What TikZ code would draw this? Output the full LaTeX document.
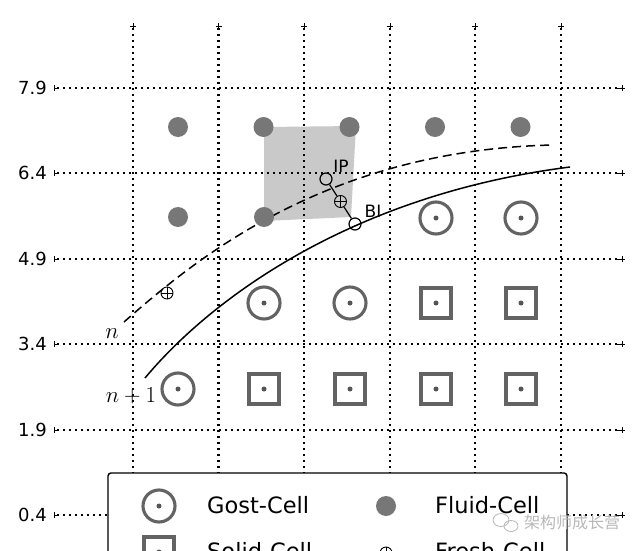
\documentclass[tikz,border=0pt]{standalone}
\usepackage{fontspec}
\setsansfont{DejaVu Sans}
\newfontfamily\cjkfont{Noto Sans CJK SC}
\definecolor{fluidgray}{HTML}{777777}
\definecolor{markgray}{HTML}{636363}
\definecolor{quadgray}{HTML}{C9C9C9}
\definecolor{dotgray}{HTML}{555555}
\definecolor{wmgray}{HTML}{B8B8B8}
\begin{document}
\begin{tikzpicture}[x=1pt,y=-1pt,
  gridline/.style={line width=2.2pt, dash pattern=on 2.2pt off 3.8pt},
  tickmark/.style={line width=0.9pt},
  ticklabel/.style={anchor=east, inner sep=0pt, font=\sffamily\fontsize{18}{20}\selectfont},
  fluidcell/.style={circle, fill=fluidgray, minimum size=20pt, inner sep=0pt},
  ghostcell/.style={circle, draw=markgray, line width=3.1pt, minimum size=32pt, inner sep=0pt,
    path picture={\fill[dotgray] (path picture bounding box.center) circle (2.5pt);}},
  solidcell/.style={rectangle, draw=markgray, line width=3.1pt, minimum size=30pt, inner sep=0pt,
    path picture={\fill[dotgray] (path picture bounding box.center) circle (2.5pt);}},
  freshcell/.style={circle, draw=black, line width=0.9pt, minimum size=12pt, inner sep=0pt,
    path picture={\draw[line width=0.9pt] (path picture bounding box.north) -- (path picture bounding box.south)
      (path picture bounding box.west) -- (path picture bounding box.east);}},
  probe/.style={circle, draw=black, line width=1.2pt, minimum size=12pt, inner sep=0pt},
  curvelabel/.style={anchor=base, inner sep=0pt, scale=1.1, font=\fontsize{20.74}{24}\selectfont},
  ptlabel/.style={anchor=base, inner sep=0pt, font=\sffamily\fontsize{17}{20}\selectfont},
  legtext/.style={anchor=base west, inner sep=0pt, font=\sffamily\fontsize{22.5}{26}\selectfont},
]
\useasboundingbox (0,0) rectangle (640,551);
\fill[white] (0,0) rectangle (640,551);

% shaded interpolation cell
\fill[quadgray] (264,127) -- (356,126) -- (351,217) -- (264,221) -- cycle;

% grid
\foreach \yy in {88,173,259,344,430,515} {
  \draw[gridline] (57,\yy) -- (621,\yy);
  \draw[tickmark] (54,\yy-3) -- (54,\yy+3);
  \draw[tickmark] (54,\yy) -- (58,\yy);
  \draw[tickmark] (622,\yy-3) -- (622,\yy+3);
  \draw[tickmark] (617,\yy) -- (625,\yy);
}
\foreach \xx in {133,218.5,304,390,475,561} {
  \draw[gridline] (\xx,28) -- (\xx,560);
  \draw[tickmark] (\xx-3,26) -- (\xx+3,26);
  \draw[tickmark] (\xx,23) -- (\xx,30);
}

% tick labels
\node[ticklabel] (t79) at (47,88) {7.9};
\node[ticklabel] (t64) at (47,173) {6.4};
\node[ticklabel] (t49) at (47,259) {4.9};
\node[ticklabel] (t34) at (47,344) {3.4};
\node[ticklabel] (t19) at (47,430) {1.9};
\node[ticklabel] (t04) at (47,515) {0.4};

% interfaces
\draw[line width=1.5pt, dash pattern=on 9pt off 5pt]
  (124,322) .. controls (200,255) and (330,150) .. (553,145);
\draw[line width=1.5pt]
  (145,378) .. controls (210,300) and (350,195) .. (570,167);

% fluid cells
\foreach \i/\xx in {1/178,2/263.5,3/349.5,4/435,5/520.5}
  \node[fluidcell] (f1\i) at (\xx,127) {};
\node[fluidcell] (f21) at (178,217) {};
\node[fluidcell] (f22) at (264,217) {};

% ghost cells
\node[ghostcell] (g24) at (436,218) {};
\node[ghostcell] (g25) at (521,218) {};
\node[ghostcell] (g32) at (264,303) {};
\node[ghostcell] (g33) at (350,303) {};
\node[ghostcell] (g41) at (178,389) {};

% solid cells
\node[solidcell] (s34) at (436,303) {};
\node[solidcell] (s35) at (521,303) {};
\node[solidcell] (s42) at (264,389) {};
\node[solidcell] (s43) at (350,389) {};
\node[solidcell] (s44) at (436,389) {};
\node[solidcell] (s45) at (521,389) {};

% fresh cell
\node[freshcell] (fr31) at (167,293) {};

% image point / boundary intercept
\node[probe] (IP) at (326,179) {};
\node[probe] (BI) at (355,224) {};
\node[freshcell] (mid) at (340.5,201.5) {};
\draw[line width=1.2pt] (IP) -- (mid);
\draw[line width=1.2pt] (mid) -- (BI);
\node[ptlabel] (IPl) at (341,172) {IP};
\node[ptlabel] (BIl) at (373,217) {BI};

% curve labels
\node[curvelabel] (ln) at (112,338) {$n$};
\node[curvelabel] (ln1) at (131,402) {$n+1$};

% legend
\draw[line width=1.4pt, fill=white, rounded corners=3pt] (108,473) rectangle (567,620);
\node[ghostcell] (lg) at (159,506) {};
\node[legtext] (lgt) at (207,513) {Gost-Cell};
\node[fluidcell] (lf) at (386,506) {};
\node[legtext] (lft) at (435,513) {Fluid-Cell};
\node[solidcell] (ls) at (159,552) {};
\node[legtext] (lst) at (207,559) {Solid-Cell};
\node[freshcell] (lr) at (386,553) {};
\node[legtext] (lrt) at (435,559) {Fresh-Cell};

% watermark
\draw[wmgray, line width=0.8pt] (501,520) ellipse (8pt and 6.5pt);
\draw[wmgray, line width=0.8pt] (511,526) ellipse (7pt and 5.5pt);
\node[anchor=west, inner sep=0pt, text=wmgray, font=\cjkfont\fontsize{16}{18}\selectfont] (wm) at (524,522) {架构师成长营};
\end{tikzpicture}
\end{document}
